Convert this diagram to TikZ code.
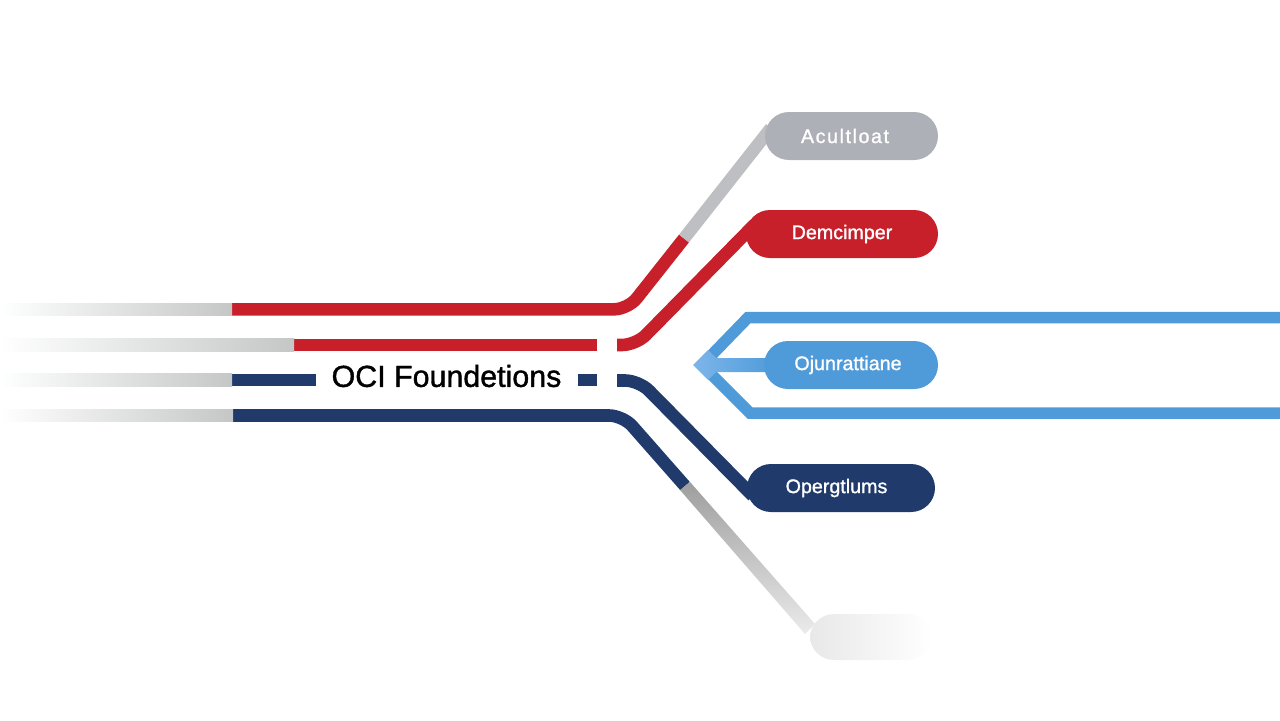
\documentclass[tikz,border=0pt]{standalone}
\usepackage{fontspec}
\setmainfont{Liberation Sans}[FakeBold=1.2]
\usetikzlibrary{backgrounds}
\newcommand{\myunit}{0.02cm}
\definecolor{barred}{HTML}{C8202A}
\definecolor{barnavy}{HTML}{1F3A6B}
\definecolor{barblue}{HTML}{4F9BDA}
\definecolor{bartip}{HTML}{7DB5EA}
\definecolor{bargray}{HTML}{ADB0B6}
\definecolor{barstem}{HTML}{BDBFC2}
\definecolor{barfade}{HTML}{C5C7C7}
\tikzset{
    node style pill/.style={rounded corners=24*\myunit,minimum height=48*\myunit,
        text=white,inner sep=0pt,font=\fontsize{11.2}{14}\selectfont},
    node style title/.style={inner sep=0pt,font=\fontsize{17.3}{21}\selectfont},
    line style bar/.style={line width=12.6*\myunit},
    line style bend/.style={line style bar,rounded corners=14*\myunit},
}

\begin{document}
\begin{tikzpicture}[x=\myunit,y=-\myunit]
\useasboundingbox (0,0) rectangle (1280,720);
% les pastilles
\node [node style pill,fill=bargray,minimum width=173*\myunit] (pa) at (851.5,136)
    {\addfontfeature{LetterSpace=8}Acultloat\hspace*{0.26cm}};
\node [node style pill,fill=barred,minimum width=192*\myunit] (pb) at (842,234) {Demcimper};
\node [node style pill,fill=barblue,minimum width=174*\myunit] (pc) at (851,365)
    {Ojunrattiane\hspace*{0.12cm}};
\node [node style pill,fill=barnavy,minimum width=188*\myunit] (pd) at (841,488)
    {Opergtlums\hspace*{0.18cm}};
\node [node style pill,left color=black!9,right color=white,minimum width=122*\myunit,
       minimum height=46*\myunit] (pe) at (871,637) {};
\node [node style title] (title) at (446.5,376) {OCI Foundetions};
% les points de passage
\coordinate (ka) at (684,238.5);
\coordinate (kb) at (755,224);
\coordinate (kc) at (771,128);
\coordinate (kd) at (753,496);
\coordinate (ke) at (685,486);
\coordinate (apex) at (702,365);
\coordinate (bt) at (1280,317.5);
\coordinate (bb) at (1280,413);
% les bandes grises
\foreach \y/\xend in {309.3/232,345/294,380/232,415.5/233}
    \shade [left color=white,middle color=black!18,right color=barfade]
        (0,\y-6.3) rectangle (\xend,\y+6.3);
\begin{scope}[on background layer]
% les bandes rouges
\draw [line style bar,barred] (294,345) -- (597,345);
\draw [line style bend,barred] (232,309.3) -- (628,309.3) -- (ka);
\draw [line style bend,barred] (617,345) -- (636,345) -- (kb);
% les bandes bleues
\draw [line style bar,barnavy] (232,380) -- (316,380);
\draw [line style bar,barnavy] (578,380) -- (597,380);
\draw [line style bend,barnavy] (617,380.5) -- (639,380.5) -- (kd);
\draw [line style bend,barnavy] (233,415.5) -- (623,415.5) -- (ke);
% les liaisons grises
\draw [line style bar,barstem] (ka) -- (kc);
\shade [top color=black!38,bottom color=black!8]
    (680,490) -- (690,482) -- (815,624) -- (805,634) -- cycle;
% le crochet bleu
\draw [line style bar,line width=11.5*\myunit,barblue,miter limit=4]
    (bt) -- (748,317.5) -- (apex) -- (750,413) -- (bb);
\shade [left color=bartip,right color=barblue]
    (693,365) -- (708,350) -- (716,358) -- (775,358) -- (775,372) -- (716,372) -- (708,380) -- cycle;
\end{scope}
\end{tikzpicture}
\end{document}
